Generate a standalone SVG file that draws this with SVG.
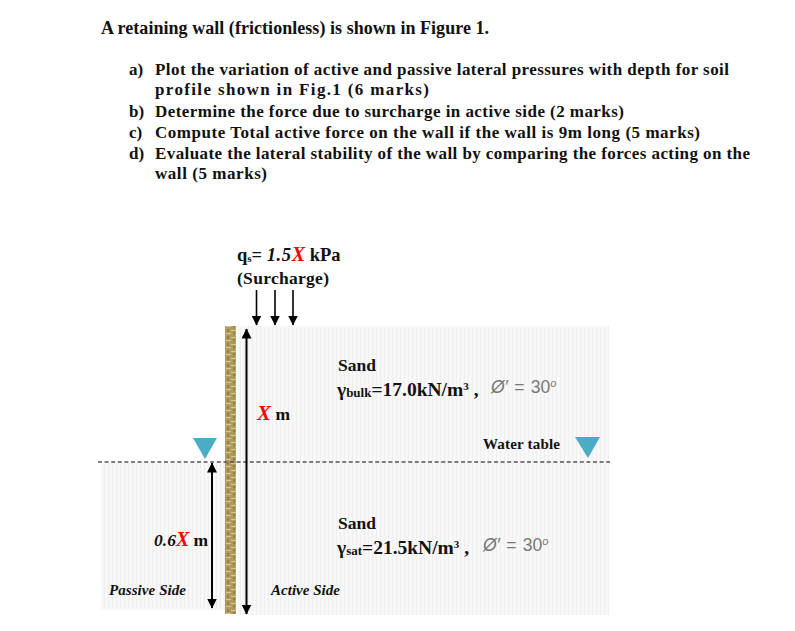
<svg xmlns="http://www.w3.org/2000/svg" width="795" height="631" viewBox="0 0 795 631">
<style>
text{font-family:"Liberation Serif","Times New Roman",serif;font-weight:bold;fill:#111}
.q{font-size:17px}
.d{font-size:17.500px}
.i{font-style:italic}
.r{fill:#f00;font-style:italic}
.g{font-family:"Liberation Sans",Arial,sans-serif;font-weight:normal;fill:#777;font-size:17.500px}
.c{stroke:#000;stroke-width:2;fill:none}
.t{stroke:#000;stroke-width:1.6;fill:none}
.w{fill:#4bacc6}
.dash{stroke:#555;stroke-width:1.5;stroke-dasharray:4 2.6;fill:none}
</style>
<defs>
<pattern id="sand" width="4" height="4" patternUnits="userSpaceOnUse">
<rect width="4" height="4" fill="#f6f6f6"/><rect width="1" height="4" fill="#f0f0f0"/><rect x="2" width="1" height="4" fill="#fafafa"/>
</pattern>
<pattern id="wallp" width="11" height="7" patternUnits="userSpaceOnUse">
<rect width="11" height="7" fill="#b29a60"/><path d="M0 1.500h5M6 4.500h5M2 6h3" stroke="#d6c68f" stroke-width="1"/><path d="M8 0v3M3 3v4" stroke="#7d6a38" stroke-width="1"/>
</pattern>
<marker id="a" markerUnits="userSpaceOnUse" markerWidth="11" markerHeight="10" refX="9.5" refY="5" orient="auto-start-reverse"><path d="M0 0L10 5L0 10z" fill="#000"/></marker>
</defs>

<g id="question">
<text x="101" y="33.500" font-size="18" textLength="388">A retaining wall (frictionless) is shown in Figure 1.</text>
<text class="q" x="129" y="74.500">a)</text>
<text class="q" x="155" y="74.500" textLength="574">Plot the variation of active and passive lateral pressures with depth for soil</text>
<text class="q" x="155" y="94.500" textLength="274">profile shown in Fig.1 (6 marks)</text>
<text class="q" x="129" y="116.500">b)</text>
<text class="q" x="155" y="116.500" textLength="469">Determine the force due to surcharge in active side (2 marks)</text>
<text class="q" x="129" y="137.500">c)</text>
<text class="q" x="155" y="137.500" textLength="545">Compute Total active force on the wall if the wall is 9m long  (5 marks)</text>
<text class="q" x="129" y="158.500">d)</text>
<text class="q" x="155" y="158.500" textLength="595">Evaluate the lateral stability of the wall by comparing the forces acting on the</text>
<text class="q" x="155" y="178.500" textLength="112">wall (5 marks)</text>
</g>

<g id="soil-active"><rect x="238" y="326" width="371" height="289" fill="url(#sand)"/></g>
<g id="soil-passive"><rect x="101" y="463" width="124" height="147" fill="url(#sand)"/></g>
<g id="wall"><rect x="225" y="326" width="11" height="288" fill="url(#wallp)"/></g>

<g id="connectors">
<path class="dash" d="M98 462H610"/>
<path class="t" d="M256.500 290V325" marker-end="url(#a)"/>
<path class="t" d="M275 290V325" marker-end="url(#a)"/>
<path class="t" d="M293 290V325" marker-end="url(#a)"/>
<path class="c" d="M246.500 329V614" marker-start="url(#a)" marker-end="url(#a)"/>
<path class="c" d="M212 463V608" marker-start="url(#a)" marker-end="url(#a)"/>
</g>

<g id="water-left"><path class="w" d="M193 438H217L205 459z"/></g>
<g id="water-right"><path class="w" d="M575 437H600L588 458z"/><text x="483" y="449" font-size="15" textLength="77">Water table</text></g>

<g id="surcharge">
<text x="237" y="261" font-size="18.500">q<tspan font-size="11" dy="1">s</tspan><tspan dy="-1">= </tspan><tspan class="i" letter-spacing=".6"> 1.5</tspan><tspan class="r" font-size="20">X</tspan> kPa</text>
<text class="d" x="237" y="284" textLength="92">(Surcharge)</text>
</g>
<g id="height-active"><text class="d" x="257" y="420"><tspan class="r" font-size="21">X</tspan> m</text></g>
<g id="height-passive"><text class="d" x="154" y="546"><tspan class="i">0.6</tspan><tspan class="r" font-size="20">X</tspan>   m</text></g>
<g id="passive-label"><text class="i" x="109" y="595" font-size="15" textLength="77">Passive Side</text></g>
<g id="active-label"><text class="i" x="271" y="595" font-size="15" textLength="69">Active Side</text></g>

<g id="sand-upper">
<text class="d" x="338" y="371" textLength="38">Sand</text>
<text x="337" y="396" font-size="19.500">γ<tspan font-size="13" dy="1">bulk</tspan><tspan dy="-1">=17.0kN/m</tspan><tspan font-size="11" dy="-6">3</tspan><tspan dy="6"> ,</tspan></text>
<text class="g" x="491" y="393" word-spacing="1.5"><tspan font-style="italic">Ø′</tspan> = 30<tspan font-size="11" dy="-6" font-style="italic">o</tspan></text>
</g>
<g id="sand-lower">
<text class="d" x="338" y="529" textLength="38">Sand</text>
<text x="337" y="554" font-size="19.500">γ<tspan font-size="13" dy="1">sat</tspan><tspan dy="-1">=21.5kN/m</tspan><tspan font-size="11" dy="-6">3</tspan><tspan dy="6"> ,</tspan></text>
<text class="g" x="483" y="551" word-spacing="1.5"><tspan font-style="italic">Ø′</tspan> = 30<tspan font-size="11" dy="-6" font-style="italic">o</tspan></text>
</g>
</svg>
